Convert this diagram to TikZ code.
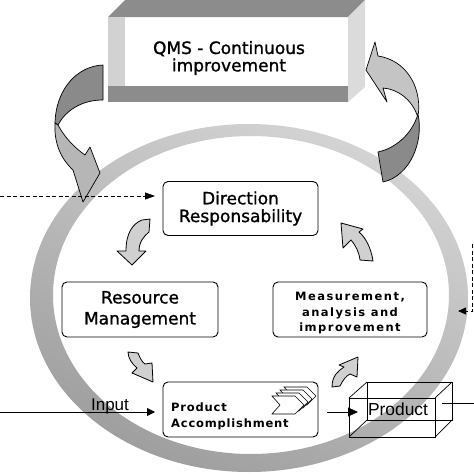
\documentclass[tikz,border=0pt]{standalone}
\usepackage{fontspec}
\setmainfont{DejaVu Sans}[FakeBold=1.2]
\newfontfamily\arialfont{Liberation Sans}
\newfontfamily\mfont[LetterSpace=13]{DejaVu Sans}
\newfontfamily\pfont[LetterSpace=7]{DejaVu Sans}
\usetikzlibrary{arrows.meta}
\definecolor{ringtop}{HTML}{D4D4D4}
\definecolor{ringbot}{HTML}{9E9E9E}
\definecolor{facedark}{HTML}{8C8C8C}
\definecolor{facelight}{HTML}{D2D2D2}
\definecolor{sidelight}{HTML}{DBDBDB}
\definecolor{arrdark}{HTML}{8A8A8A}
\definecolor{arrlight}{HTML}{B6B6B6}
\definecolor{arrlighttwo}{HTML}{C4C4C4}
\definecolor{smallfill}{HTML}{D0D0D0}
\begin{document}
\begin{tikzpicture}[x=1pt,y=-1pt,
  procbox/.style={draw=black, line width=0.9pt, rounded corners=5pt, fill=white,
    minimum width=155pt, minimum height=54pt, inner sep=0pt},
  bigtxt/.style={font=\fontsize{17}{17.7}\selectfont, align=center, inner sep=0pt},
  smallarrow/.style={fill=smallfill, draw=black, line width=0.8pt, line join=round},
  bigarrowdark/.style={fill=arrdark, draw=black, line width=0.7pt, line join=round},
  bigarrowlight/.style={fill=arrlight, draw=black, line width=0.7pt, line join=round},
  wire/.style={draw=black, line width=0.7pt},
  flowline/.style={draw=black, line width=0.8pt},
  dashline/.style={draw=black, line width=0.8pt, dash pattern=on 4pt off 2.5pt},
  chevron/.pic={\filldraw[fill=white, draw=black, line width=0.6pt]
     (0,0) -- (23,0) -- (32,9) -- (23,18) -- (0,18) -- (8,9) -- cycle;}
]
\useasboundingbox (0,0) rectangle (474,474);
\fill[white] (0,0) rectangle (474,474);

% ---- gray ring ----
\shade[even odd rule, top color=ringtop, bottom color=ringbot, shading angle=-25]
  (249,298) ellipse [x radius=219pt, y radius=174pt]
  (251,295) ellipse [x radius=198pt, y radius=159pt];

% ---- QMS 3D box ----
\fill[facedark] (108,17) -- (125,0) -- (365,0) -- (348,17) -- cycle;
\fill[sidelight] (348,17) -- (365,0) -- (365,87) -- (348,102) -- cycle;
\fill[facelight] (108,17) rectangle (125,87);
\fill[facedark] (108,86) rectangle (348,102);
\node[bigtxt, font=\fontsize{17}{17.4}\selectfont] (qms) at (229,58) {QMS - Continuous\\improvement};

% ---- big curved arrows ----
% left (from QMS down to the cycle)
\path[bigarrowdark] (103,65) .. controls (78,66) and (56,88) .. (55,123)
   -- (58,125) .. controls (66,110) and (82,100) .. (103,100) -- cycle;
\path[bigarrowlight] (55,123) .. controls (54,142) and (60,158) .. (73,170)
   -- (83,202) -- (100,173) -- (90,147) -- (85,155)
   .. controls (75,148) and (65,138) .. (58,125) -- cycle;
% right (from the cycle up to QMS)
\path[bigarrowdark] (418,114) .. controls (424,142) and (410,176) .. (383,182)
   -- (378,152) .. controls (396,148) and (412,134) .. (418,114) -- cycle;
\path[bigarrowlight, fill=arrlighttwo] (375,42) -- (366,70) -- (387,102) -- (383,88)
   .. controls (398,89) and (412,100) .. (417,115)
   -- (418.5,113) .. controls (421,85) and (405,60) .. (378,56) -- cycle;

% ---- process boxes ----
\node[procbox, bigtxt] (dir) at (240.5,208.5) {Direction\\Responsability};
\node[procbox, bigtxt, font=\fontsize{17}{21}\selectfont, minimum width=156pt, minimum height=55pt] (res) at (140,309.5) {Resource\\Management};
\node[procbox, minimum width=154pt, minimum height=55pt] (mai) at (350,309.5) {};
\node[align=center, inner sep=0pt, font={\fontsize{11.5}{15.5}\mfont\bfseries}] (maitxt) at (350,313) {Measurement,\\analysis and\\improvement};
\node[procbox, minimum height=55pt] (pa) at (240.5,409.5) {};
\pic at (284,387) {chevron};
\pic at (280,390) {chevron};
\pic at (276,393) {chevron};
\pic at (272,396) {chevron};
\node[anchor=west, align=left, inner sep=0pt, font={\fontsize{11.5}{15.6}\pfont\bfseries}] (patxt) at (171,416.5) {Product\\Accomplishment};

% ---- small gray arrows ----
\path[smallarrow] (142,220) .. controls (132,224) and (126,234) .. (126,251)
   -- (117,251) -- (132,265) -- (146,251) -- (139,251)
   .. controls (139,242) and (144,236) .. (149,232) -- (150,219) -- cycle;
\path[smallarrow] (360,260) -- (373,261) .. controls (371,248) and (366,238) .. (359,232)
   -- (363,229) -- (341,223) -- (343,248) -- (351,240)
   .. controls (356,246) and (359,252) .. (360,260) -- cycle;
\path[smallarrow] (128,352) -- (138,353) .. controls (140,358) and (142,362) .. (145,364)
   -- (152,363) -- (153,382) -- (132,373) -- (137,368)
   .. controls (132,364) and (128,358) .. (128,352) -- cycle;
\path[smallarrow] (332,387) -- (340,386) .. controls (343,380) and (346,376) .. (350,374)
   -- (357,377) -- (358,357) -- (339,365) -- (344,367)
   .. controls (338,371) and (332,376) .. (332,387) -- cycle;

% ---- product box (wire frame) ----
\path[wire] (349,398) rectangle (435,437);
\path[wire] (367,382) rectangle (452,420);
\path[wire] (349,398) -- (367,382) (435,398) -- (452,382)
  (435,437) -- (452,420) (349,437) -- (367,420);
\node[font=\fontsize{17.4}{18}\arialfont, anchor=base, inner sep=0pt] (prod) at (398,415) {Product};

% ---- flows ----
\coordinate (inL) at (0,412);
\coordinate (inR) at (155,412);
\draw[flowline, -{Triangle[length=8pt,width=8pt]}] (inL) -- (inR);
\node[font=\fontsize{17}{18}\arialfont, anchor=base, inner sep=0pt] (inlbl) at (110,410) {Input};
\coordinate (paout) at (327,412);
\coordinate (prodin) at (358,412);
\draw[flowline, -{Triangle[length=10pt,width=9pt]}] (paout) -- (prodin);
\coordinate (prodout) at (442,403);
\coordinate (outR) at (474,403);
\draw[flowline] (prodout) -- (outR);
\coordinate (dashL) at (0,196);
\coordinate (dashR) at (155,196);
\draw[dashline, -{Triangle[length=10pt,width=7pt]}] (dashL) -- (dashR);
\coordinate (rdTop) at (472.5,244);
\coordinate (rdCorner) at (472.5,311);
\coordinate (rdEnd) at (458,311);
\draw[dashline, -{Triangle[length=8pt,width=7pt]}] (rdTop) -- (rdCorner) -- (rdEnd);
\end{tikzpicture}
\end{document}
